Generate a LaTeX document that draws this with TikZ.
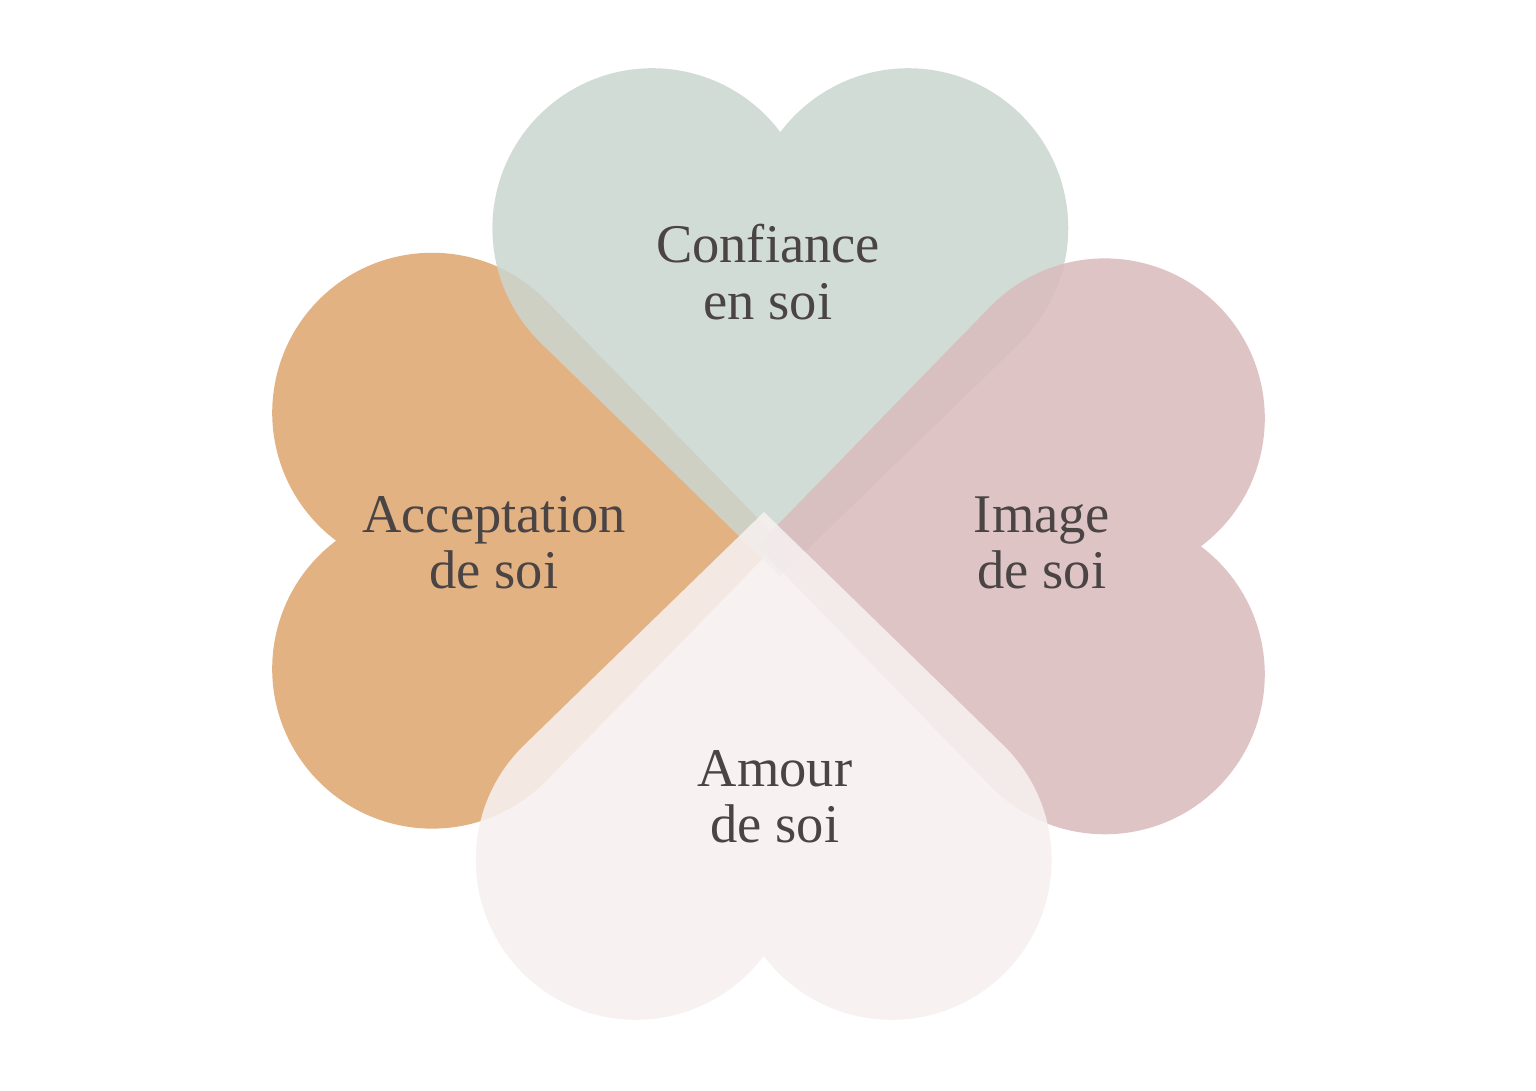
\documentclass[tikz,border=0pt]{standalone}
\usepackage{fontspec}
\setmainfont{Liberation Serif}
\definecolor{sage}{RGB}{203,214,208}
\definecolor{apricot}{RGB}{227,178,131}
\definecolor{blush}{RGB}{218,186,188}
\definecolor{cream}{RGB}{246,241,240}
\definecolor{ink}{RGB}{74,68,68}
% one heart, tip at the origin, lobes along +y
\newcommand{\heartpath}{(0,0) -- (-239.8,233.1) arc[start angle=225.8, end angle=36.9, radius=160] arc[start angle=143.1, end angle=-45.8, radius=160] -- cycle}
\begin{document}
\begin{tikzpicture}[x=.01cm, y=-.01cm,
	petal/.style={text=ink, align=center, font=\fontsize{15.5}{16}\selectfont}]
	\fill[white] (0,0) rectangle (1536,1090);
	\begin{scope}[shift={(780,541)}, rotate=-90]
		\fill[apricot] \heartpath;
	\end{scope}
	\begin{scope}[shift={(780,576)}, rotate=180]
		\fill[sage, fill opacity=.85] \heartpath;
	\end{scope}
	\begin{scope}[shift={(757,546)}, rotate=90]
		\fill[blush, fill opacity=.85] \heartpath;
	\end{scope}
	\begin{scope}[shift={(764,512)}]
		\fill[cream, fill opacity=.88] \heartpath;
	\end{scope}
	\node[petal] (conf) at (768,272) {Confiance\\en soi};
	\node[petal] (accept) at (494,543) {Acceptation\\de soi};
	\node[petal] (image) at (1042,543) {Image\\de soi};
	\node[petal] (amour) at (775,797) {Amour\\de soi};
\end{tikzpicture}
\end{document}
